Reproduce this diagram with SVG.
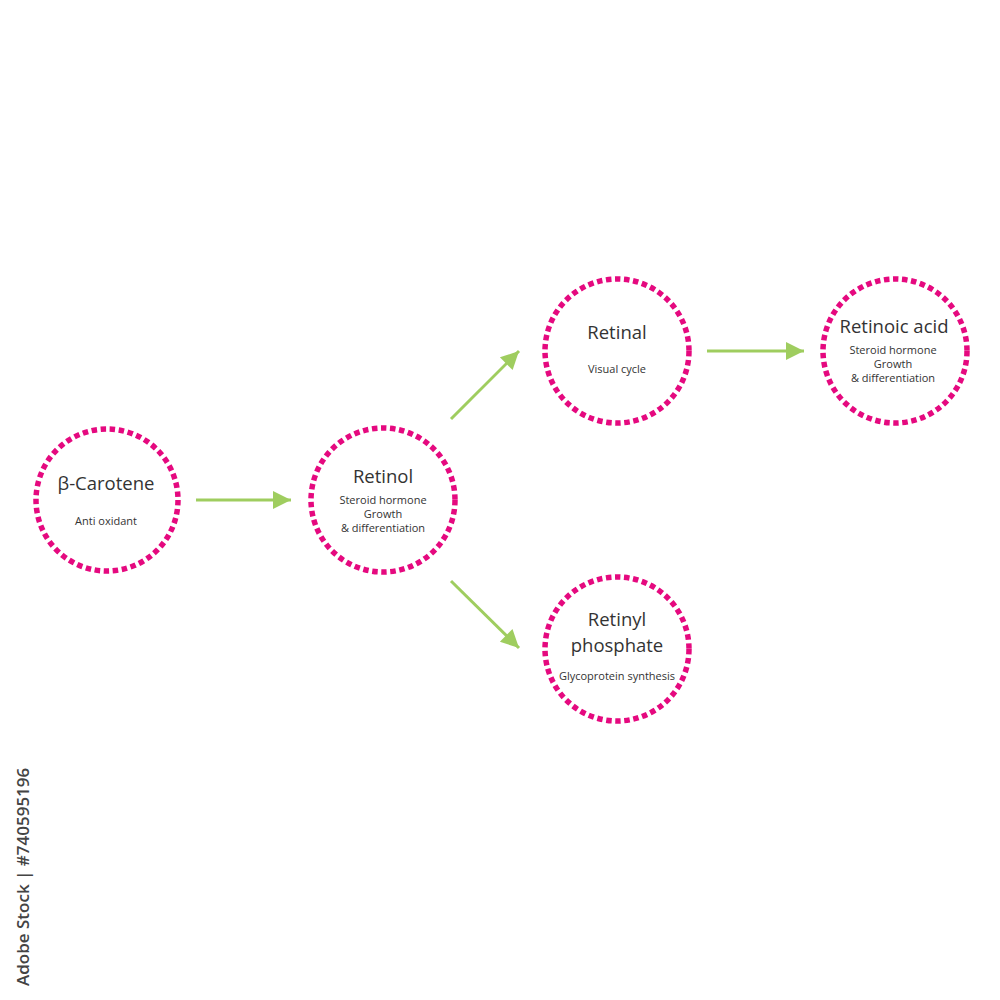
<svg xmlns="http://www.w3.org/2000/svg" width="1000" height="1000" viewBox="0 0 1000 1000">
<defs>
<style>
.ring{fill:#fff;stroke:#e5097f;stroke-width:5.5;stroke-dasharray:5.5 3.6}
.t{font-family:"Open Sans","Liberation Sans",sans-serif;fill:#333;text-anchor:middle}
.h{font-size:18.5px}
.s{font-size:11px}
.c{stroke:#9fcd5f;stroke-width:3;fill:none}
</style>
<marker id="ah" viewBox="0 0 10 10" refX="10" refY="5" markerWidth="9.5" markerHeight="6" markerUnits="strokeWidth" orient="auto">
<path d="M0,0 L10,5 L0,10 Z" fill="#9fcd5f"/>
</marker>
</defs>
<rect width="1000" height="1000" fill="#fff"/>
<g id="connectors">
<line class="c" x1="196" y1="500" x2="291" y2="500" marker-end="url(#ah)"/>
<line class="c" x1="451" y1="419" x2="519" y2="351" marker-end="url(#ah)"/>
<line class="c" x1="451" y1="581" x2="519" y2="648" marker-end="url(#ah)"/>
<line class="c" x1="707" y1="351" x2="804" y2="351" marker-end="url(#ah)"/>
</g>
<g id="beta-carotene">
<circle class="ring" cx="107" cy="500" r="71"/>
<text class="t h" x="106" y="490">β-Carotene</text>
<text class="t s" x="106" y="525">Anti oxidant</text>
</g>
<g id="retinol">
<circle class="ring" cx="383" cy="500" r="72"/>
<text class="t h" x="383" y="483">Retinol</text>
<text class="t s" x="383" y="504">Steroid hormone</text>
<text class="t s" x="383" y="518">Growth</text>
<text class="t s" x="383" y="532">&amp; differentiation</text>
</g>
<g id="retinal">
<circle class="ring" cx="617" cy="351" r="72"/>
<text class="t h" x="617" y="339">Retinal</text>
<text class="t s" x="617" y="373">Visual cycle</text>
</g>
<g id="retinoic-acid">
<circle class="ring" cx="895" cy="351" r="72"/>
<text class="t h" x="894" y="333">Retinoic acid</text>
<text class="t s" x="893" y="354">Steroid hormone</text>
<text class="t s" x="893" y="368">Growth</text>
<text class="t s" x="893" y="382">&amp; differentiation</text>
</g>
<g id="retinyl-phosphate">
<circle class="ring" cx="617" cy="649" r="72"/>
<text class="t h" x="617" y="626">Retinyl</text>
<text class="t h" x="617" y="652">phosphate</text>
<text class="t s" x="617" y="680">Glycoprotein synthesis</text>
</g>
<text x="0" y="0" transform="translate(29,986) rotate(-90)" font-family="'Open Sans','Liberation Sans',sans-serif" font-size="17" font-weight="600" fill="#444">Adobe Stock | #740595196</text>
</svg>
